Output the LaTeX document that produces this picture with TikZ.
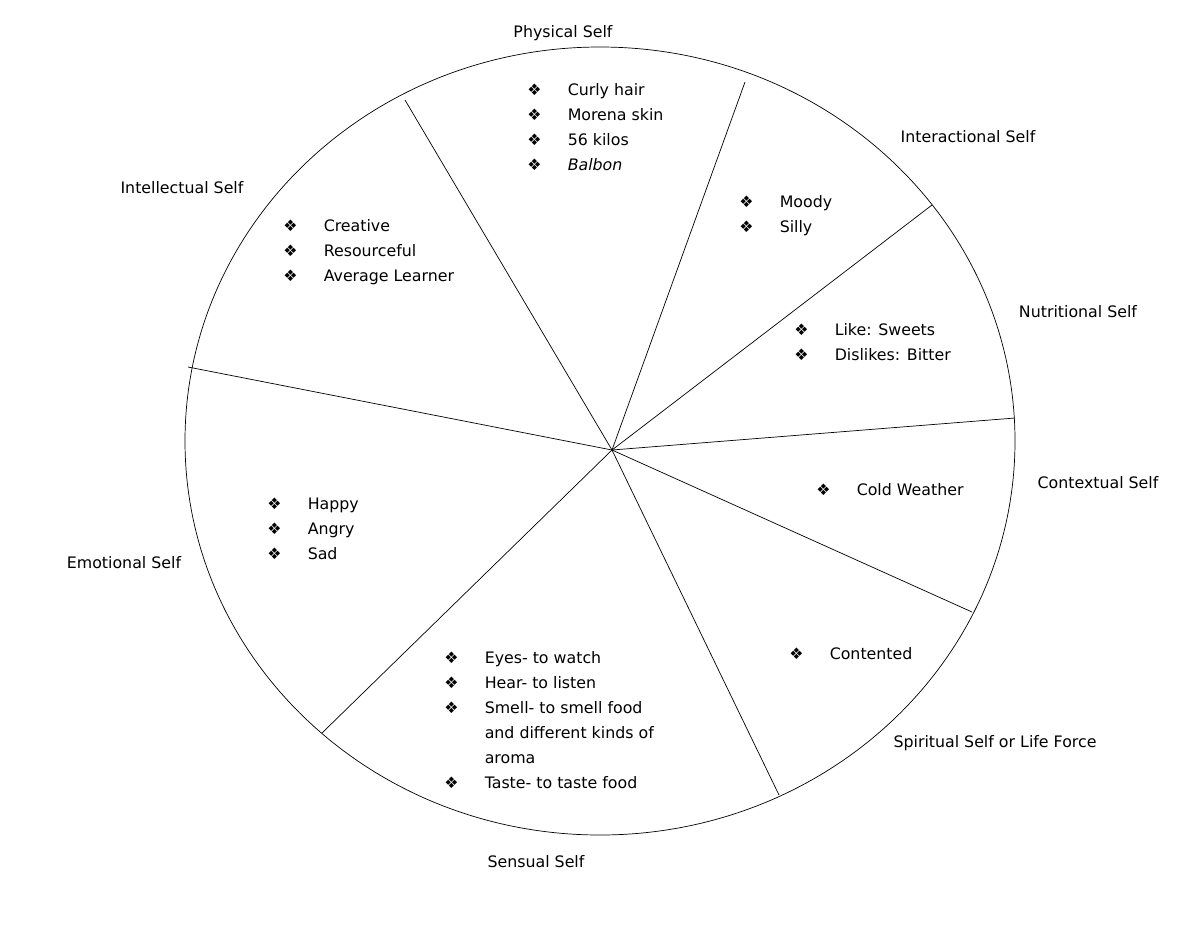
\documentclass[tikz,border=0pt]{standalone}
\usepackage{fontspec}
\setmainfont{DejaVu Sans}
\usetikzlibrary{positioning}
\newcommand{\bl}{\makebox[23pt][l]{\small ❖}}
\begin{document}
\begin{tikzpicture}[x=0.02cm,y=-0.02cm,
    lbl/.style={font=\fontsize{9}{11}\selectfont},
    items/.style={anchor=north west, inner sep=0pt, align=left,
      font=\fontsize{9}{14.2}\selectfont},
    spoke/.style={draw=black, thin},
  ]
  \useasboundingbox (0,0) rectangle (1200,927);

  % the wheel
  \draw[thin] (600,441) ellipse [x radius=415, y radius=-394];
  \coordinate (hub) at (612,450);
  \foreach \x/\y in {405/100, 745/82, 932/205, 1015/418, 972/612, 779/795, 322/733, 188/367}
    \draw[spoke] (hub) -- (\x,\y);

  % titles
  \node (physical)  [lbl] at (563,33)  {Physical Self};
  \node (interact)  [lbl] at (968,137) {Interactional Self};
  \node (nutrition) [lbl] at (1078,312) {Nutritional Self};
  \node (context)   [lbl] at (1098,483) {Contextual Self};
  \node (spiritual) [lbl] at (995,743) {Spiritual Self or Life Force};
  \node (sensual)   [lbl] at (536,862) {Sensual Self};
  \node (emotional) [lbl] at (124,563) {Emotional Self};
  \node (intellect) [lbl] at (182,188) {Intellectual Self};

  % lists
  \node (physlist) [items] at (527,83)  {\bl Curly hair\\ \bl Morena skin\\ \bl 56 kilos\\ \bl \textit{Balbon}};
  \node (intlist)  [items] at (739,195) {\bl Moody\\ \bl Silly};
  \node (nutlist)  [items] at (794,323) {\bl Like: Sweets\\ \bl Dislikes: Bitter};
  \node (conlist)  [items] at (816,483) {\bl Cold Weather};
  \node (spilist)  [items] at (789,647) {\bl Contented};
  \node (senlist)  [items] at (444,651) {\bl Eyes- to watch\\ \bl Hear- to listen\\
      \bl Smell- to smell food\\ \hspace{23pt}and different kinds of\\ \hspace{23pt}aroma\\ \bl Taste- to taste food};
  \node (emolist)  [items] at (267,498) {\bl Happy\\ \bl Angry\\ \bl Sad};
  \node (intllist) [items] at (283,219) {\bl Creative\\ \bl Resourceful\\ \bl Average Learner};
\end{tikzpicture}
\end{document}
